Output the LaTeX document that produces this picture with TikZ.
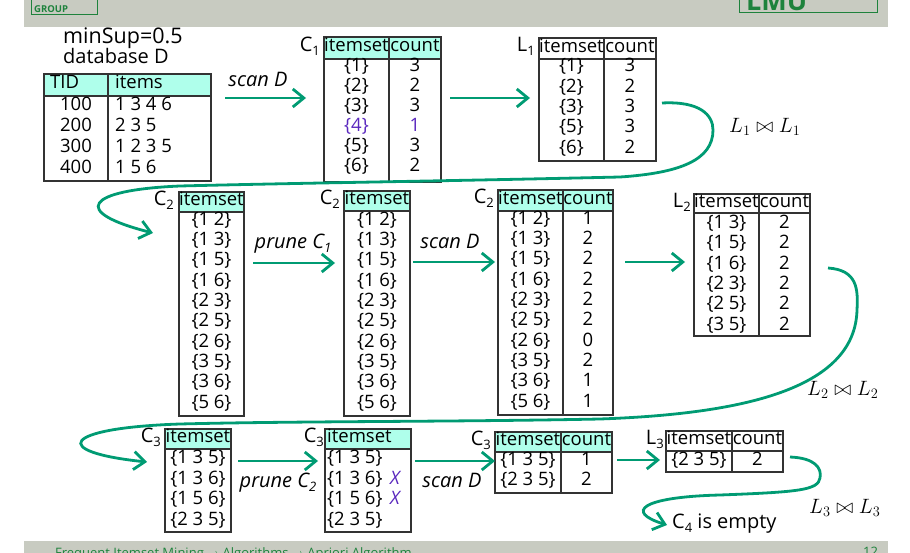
\documentclass[tikz,border=0pt]{standalone}
\usepackage{fontspec}
\setmainfont{Open Sans}
\usepackage{amsmath}
\usetikzlibrary{arrows.meta}

\definecolor{headcyan}{RGB}{175,255,235}
\definecolor{flowgreen}{RGB}{0,155,115}
\definecolor{prunepurple}{RGB}{90,40,190}
\definecolor{bargray}{RGB}{200,203,193}
\definecolor{logogreen}{RGB}{30,130,60}

\newcommand{\lowsub}[1]{\raisebox{-4pt}{\fontsize{13}{14}\selectfont #1}}

\tikzset{
  tabline/.style={draw=black!80, line width=1.2pt},
  cell/.style={inner sep=0pt, text height=.72em, text depth=0pt, font=\fontsize{18.5}{20}\selectfont},
  txt/.style={inner sep=0pt, text height=.72em, text depth=0pt, font=\fontsize{20}{22}\selectfont},
  joinlbl/.style={inner sep=0pt, font=\fontsize{21}{23}\selectfont},
  flow/.style={draw=flowgreen, line width=2.8pt, -{Straight Barb[length=11pt,width=18pt]}},
}

\begin{document}
\begin{tikzpicture}[x=1pt,y=-1pt]
    \useasboundingbox (0,0) rectangle (910,553);
    % slide bars
    \fill[bargray] (24,0) rectangle (888,27);
    \fill[bargray] (24,541) rectangle (888,553);
    \draw[logogreen, line width=1pt] (31,-3) rectangle (97,15);
    \node[inner sep=0pt, anchor=west, text=logogreen, font=\bfseries\fontsize{9.5}{10}\selectfont] (grp) at (34,9) {GROUP};
    \draw[logogreen, line width=1pt] (739,-3) rectangle (877,13);
    \node[inner sep=0pt, anchor=base west, text=logogreen, font=\bfseries\fontsize{27}{27}\selectfont] (lmu) at (746,11) {LMU};
    \node[inner sep=0pt, anchor=north west, text=logogreen, font=\fontsize{13}{14}\selectfont] (foot) at (55,547) {Frequent Itemset Mining $\rightarrow$ Algorithms $\rightarrow$ Apriori Algorithm};
    \node[inner sep=0pt, anchor=north west, text=logogreen, font=\fontsize{13}{14}\selectfont] (pgno) at (863,547) {12};

    % database
    \node[txt, anchor=west, font=\fontsize{21.5}{23}\selectfont] (minsup) at (63,40) {minSup=0.5};
    \node[txt, anchor=west] (dbase) at (63,60) {database D};
    \fill[headcyan] (44,74) rectangle (211,96);
    \draw[tabline] (44,74) rectangle (211,181) (44,96) -- (211,96) (108,74) -- (108,181);
    \node[cell, anchor=west] (dtid) at (50,85) {TID};
    \node[cell, anchor=west] (ditems) at (115,85) {items};
    \foreach \t/\v [count=\i] in {100/1 3 4 6, 200/2 3 5, 300/1 2 3 5, 400/1 5 6} {
        \node[cell] (dt\i) at (76,86+21*\i) {\t};
        \node[cell, anchor=west] (dv\i) at (115,86+21*\i) {\v};
    }

    % C1
    \node[txt, anchor=east] (c1lbl) at (320,48) {C\lowsub{1}};
    \fill[headcyan] (324,37) rectangle (441,59);
    \draw[tabline] (324,37) rectangle (441,182) (324,59) -- (441,59) (389,37) -- (389,182);
    \node[cell] (c1h1) at (356.5,48) {itemset};
    \node[cell] (c1h2) at (415,48) {count};
    \foreach \s/\n/\c [count=\i] in {1/3/black, 2/2/black, 3/3/black, 4/1/prunepurple, 5/3/black, 6/2/black} {
        \node[cell, text=\c] (c1s\i) at (356.5,48+20*\i) {\{\s\}};
        \node[cell, text=\c] (c1n\i) at (415,48+20*\i) {\n};
    }

    % L1
    \node[txt, anchor=east] (l1lbl) at (535,48) {L\lowsub{1}};
    \draw[tabline] (539,38) rectangle (656,161) (539,59) -- (656,59) (604,38) -- (604,161);
    \node[cell] (l1h1) at (571.5,48.5) {itemset};
    \node[cell] (l1h2) at (630,48.5) {count};
    \foreach \s/\n [count=\i] in {1/3, 2/2, 3/3, 5/3, 6/2} {
        \node[cell] (l1s\i) at (571.5,48+20.3*\i) {\{\s\}};
        \node[cell] (l1n\i) at (630,48+20.3*\i) {\n};
    }

    % C2 after join
    \node[txt, anchor=east] (c2albl) at (174,202) {C\lowsub{2}};
    \fill[headcyan] (179,192) rectangle (244,212);
    \draw[tabline] (179,192) rectangle (244,416) (179,212) -- (244,212);
    \node[cell] (c2ah) at (211.5,202) {itemset};
    \foreach \s [count=\i] in {1 2,1 3,1 5,1 6,2 3,2 5,2 6,3 5,3 6,5 6}
        \node[cell] (c2as\i) at (211.5,201.5+20.3*\i) {\{\s\}};

    % C2 after prune
    \node[txt, anchor=east] (c2blbl) at (340,201) {C\lowsub{2}};
    \fill[headcyan] (344,191) rectangle (410,211);
    \draw[tabline] (344,191) rectangle (410,416) (344,211) -- (410,211);
    \node[cell] (c2bh) at (377,201) {itemset};
    \foreach \s [count=\i] in {1 2,1 3,1 5,1 6,2 3,2 5,2 6,3 5,3 6,5 6}
        \node[cell] (c2bs\i) at (377,201.5+20.3*\i) {\{\s\}};

    % C2 counted
    \node[txt, anchor=east] (c2clbl) at (494,200) {C\lowsub{2}};
    \fill[headcyan] (498,190) rectangle (613,211);
    \draw[tabline] (498,190) rectangle (613,415) (498,211) -- (613,211) (563,190) -- (563,415);
    \node[cell] (c2ch1) at (530.5,200.5) {itemset};
    \node[cell] (c2ch2) at (588,200.5) {count};
    \foreach \s/\n [count=\i] in {1 2/1,1 3/2,1 5/2,1 6/2,2 3/2,2 5/2,2 6/0,3 5/2,3 6/1,5 6/1} {
        \node[cell] (c2cs\i) at (530.5,200.5+20.3*\i) {\{\s\}};
        \node[cell] (c2cn\i) at (588,200.5+20.3*\i) {\n};
    }

    % L2
    \node[txt, anchor=east] (l2lbl) at (691,204) {L\lowsub{2}};
    \draw[tabline] (694,194) rectangle (810,336) (694,213) -- (810,213) (759,194) -- (759,336);
    \node[cell] (l2h1) at (726.5,203.5) {itemset};
    \node[cell] (l2h2) at (784.5,203.5) {count};
    \foreach \s/\n [count=\i] in {1 3/2,1 5/2,1 6/2,2 3/2,2 5/2,3 5/2} {
        \node[cell] (l2s\i) at (726.5,204.7+20.3*\i) {\{\s\}};
        \node[cell] (l2n\i) at (784.5,204.7+20.3*\i) {\n};
    }

    % C3 after join
    \node[txt, anchor=east] (c3albl) at (161,438.5) {C\lowsub{3}};
    \fill[headcyan] (165,429) rectangle (231,449);
    \draw[tabline] (165,429) rectangle (231,532) (165,449) -- (231,449);
    \node[cell] (c3ah) at (198,439) {itemset};
    \foreach \s [count=\i] in {1 3 5,1 3 6,1 5 6,2 3 5}
        \node[cell] (c3as\i) at (198,439.5+20.5*\i) {\{\s\}};

    % C3 after prune
    \node[txt, anchor=east] (c3blbl) at (324,438.5) {C\lowsub{3}};
    \fill[headcyan] (325,429) rectangle (411,449);
    \draw[tabline] (325,429) rectangle (411,532) (325,449) -- (411,449);
    \node[cell, anchor=west] (c3bh) at (327,439) {itemset};
    \foreach \s [count=\i] in {1 3 5,1 3 6,1 5 6,2 3 5}
        \node[cell, anchor=west] (c3bs\i) at (327,439.5+20.5*\i) {\{\s\}};
    \node[cell, text=prunepurple] (x1) at (395,480.5) {\itshape X};
    \node[cell, text=prunepurple] (x2) at (395,501) {\itshape X};

    % C3 counted
    \node[txt, anchor=east] (c3clbl) at (491,442) {C\lowsub{3}};
    \fill[headcyan] (495,432) rectangle (612,452);
    \draw[tabline] (495,432) rectangle (612,493) (495,452) -- (612,452) (561,432) -- (561,493);
    \node[cell] (c3ch1) at (528,442) {itemset};
    \node[cell] (c3ch2) at (586.5,442) {count};
    \foreach \s/\n [count=\i] in {1 3 5/1,2 3 5/2} {
        \node[cell] (c3cs\i) at (528,442+20*\i) {\{\s\}};
        \node[cell] (c3cn\i) at (586.5,442+20*\i) {\n};
    }

    % L3
    \node[txt, anchor=east] (l3lbl) at (664,441) {L\lowsub{3}};
    \draw[tabline] (666,431) rectangle (783,472) (666,451) -- (783,451) (732,431) -- (732,472);
    \node[cell] (l3h1) at (699,441) {itemset};
    \node[cell] (l3h2) at (757.5,441) {count};
    \node[cell] (l3s1) at (699,461.5) {\{2 3 5\}};
    \node[cell] (l3n1) at (757.5,461.5) {2};

    \node[txt, anchor=west] (c4) at (672,525) {C\lowsub{4} is empty};

    % straight steps
    \coordinate (dout) at (225,98);
    \coordinate (c1in) at (306,98);
    \coordinate (c1out) at (450,98);
    \coordinate (l1in) at (530,98);
    \coordinate (c2aout) at (253,263);
    \coordinate (c2bin) at (335,263);
    \coordinate (c2bout) at (413,262);
    \coordinate (c2cin) at (495,262);
    \coordinate (c2cout) at (625,262);
    \coordinate (l2in) at (685,262);
    \coordinate (c3aout) at (238,461);
    \coordinate (c3bin) at (318,461);
    \coordinate (c3bout) at (415,461);
    \coordinate (c3cin) at (495,461);
    \coordinate (c3cout) at (617,460);
    \coordinate (l3in) at (660,460);
    \draw[flow] (dout) -- (c1in);
    \draw[flow] (c1out) -- (l1in);
    \draw[flow] (c2aout) -- (c2bin);
    \draw[flow] (c2bout) -- (c2cin);
    \draw[flow] (c2cout) -- (l2in);
    \draw[flow] (c3aout) -- (c3bin);
    \draw[flow] (c3bout) -- (c3cin);
    \draw[flow] (c3cout) -- (l3in);
    \node[txt] (scan1) at (258,82.5) {\itshape scan D};
    \node[txt] (prune1) at (293,244.5) {\itshape prune C\lowsub{1}};
    \node[txt] (scan2) at (450,245) {\itshape scan D};
    \node[txt] (prune2) at (278,484) {\itshape prune C\lowsub{2}};
    \node[txt] (scan3) at (452,484) {\itshape scan D};

    % joins
    \coordinate (l1out) at (662,103);
    \coordinate (c2ain) at (153,233);
    \draw[flow] (l1out) .. controls (700,101) and (713,115) .. (713,130)
        .. controls (713,160) and (680,173) .. (620,177)
        .. controls (450,181) and (300,183) .. (180,186)
        .. controls (85,190) and (70,212) .. (c2ain);
    \coordinate (l2out) at (828,268);
    \coordinate (c3ain) at (147,462);
    \draw[flow] (l2out) .. controls (858,270) and (858,290) .. (857,310)
        .. controls (855,390) and (740,414) .. (600,419)
        .. controls (450,422) and (300,421) .. (180,424)
        .. controls (60,428) and (50,452) .. (c3ain);
    \coordinate (l3out) at (790,457);
    \coordinate (c4in) at (667,525);
    \draw[flow] (l3out) .. controls (815,458) and (822,468) .. (820,478)
        .. controls (818,490) and (800,492) .. (720,495)
        .. controls (640,497) and (625,512) .. (c4in);
    \node[joinlbl, anchor=west] (j1) at (729,127) {$L_1 \bowtie L_1$};
    \node[joinlbl, anchor=west] (j2) at (807,390) {$L_2 \bowtie L_2$};
    \node[joinlbl, anchor=west] (j3) at (809,508) {$L_3 \bowtie L_3$};
\end{tikzpicture}
\end{document}
